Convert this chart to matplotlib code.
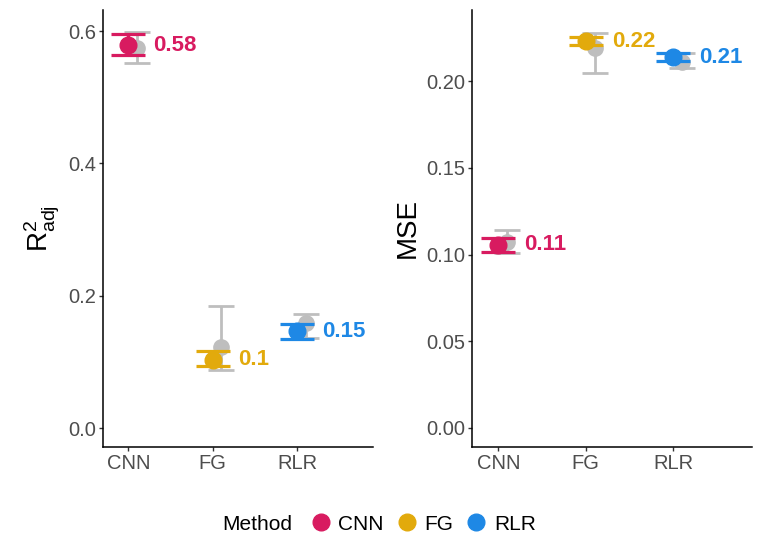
import matplotlib
matplotlib.use('Agg')
import matplotlib.pyplot as plt
from matplotlib.lines import Line2D

plt.rcParams['font.family'] = ['Liberation Sans', 'DejaVu Sans']
plt.rcParams['mathtext.fontset'] = 'custom'
plt.rcParams['mathtext.rm'] = 'Liberation Sans'
plt.rcParams['mathtext.it'] = 'Liberation Sans:italic'

methods = ['CNN', 'FG', 'RLR']
colors = ['#D81B60', '#E2AA0C', '#1E88E5']
grey = '#BEBEBE'

# adjusted R^2: coloured estimate and grey comparison
r2_mean = [0.579, 0.103, 0.146]
r2_low = [0.564, 0.094, 0.134]
r2_high = [0.595, 0.116, 0.157]
r2_grey_mean = [0.574, 0.122, 0.159]
r2_grey_low = [0.552, 0.088, 0.136]
r2_grey_high = [0.598, 0.184, 0.172]

# MSE
mse_mean = [0.1055, 0.223, 0.2138]
mse_low = [0.1014, 0.2207, 0.2115]
mse_high = [0.1095, 0.2254, 0.216]
mse_grey_mean = [0.107, 0.219, 0.211]
mse_grey_low = [0.101, 0.2046, 0.2075]
mse_grey_high = [0.114, 0.228, 0.216]

r2_ticks = [0.0, 0.2, 0.4, 0.6]
mse_ticks = [0.00, 0.05, 0.10, 0.15, 0.20]

fig = plt.figure(figsize=(7.65, 5.47), dpi=100)
ax1 = fig.add_axes([103 / 765, 1 - 447 / 547, 270 / 765, 437 / 547])
ax2 = fig.add_axes([472 / 765, 1 - 447 / 547, 280 / 765, 437 / 547])


def panel(ax, mean, low, high, gmean, glow, ghigh, ticks, fmt, ylim):
    for i, m in enumerate(methods):
        x = i + 1
        ax.errorbar(x + 0.1, gmean[i], yerr=[[gmean[i] - glow[i]], [ghigh[i] - gmean[i]]],
                    fmt='o', color=grey, ms=11, elinewidth=2, capsize=9.5, capthick=2,
                    zorder=2)
        ax.errorbar(x, mean[i], yerr=[[mean[i] - low[i]], [high[i] - mean[i]]],
                    fmt='o', color=colors[i], ms=12, elinewidth=2.3, capsize=12,
                    capthick=2.3, zorder=3)
        ax.text(x + 0.3, mean[i], f'{round(mean[i], 2):g}', color=colors[i],
                fontsize=16, fontweight='bold', ha='left', va='center', zorder=4)
    ax.set_xlim(0.7, 3.9)
    ax.set_ylim(*ylim)
    ax.set_xticks([1, 2, 3])
    ax.set_xticklabels(methods)
    ax.set_yticks(ticks)
    ax.set_yticklabels([fmt.format(t) for t in ticks])
    for s in ['top', 'right']:
        ax.spines[s].set_visible(False)
    for s in ['left', 'bottom']:
        ax.spines[s].set_linewidth(1.1)
    ax.tick_params(length=3, width=1, color='#333333', labelsize=14.5,
                   labelcolor='#4D4D4D', pad=2)


panel(ax1, r2_mean, r2_low, r2_high, r2_grey_mean, r2_grey_low, r2_grey_high,
      r2_ticks, '{:.1f}', (-0.0287, 0.632))
panel(ax2, mse_mean, mse_low, mse_high, mse_grey_mean, mse_grey_low, mse_grey_high,
      mse_ticks, '{:.2f}', (-0.011, 0.241))

ax1.set_ylabel(r'$\mathrm{R}^{2}_{\mathrm{adj}}$', fontsize=20, labelpad=4)
ax2.set_ylabel('MSE', fontsize=20, labelpad=4)

fig.text(222 / 765, 1 - 524 / 547, 'Method', fontsize=15, ha='left', va='center')
handles = [Line2D([], [], marker='o', ls='', color=c, ms=12) for c in colors]
fig.legend(handles, methods, loc='center', bbox_to_anchor=(423 / 765, 1 - 524 / 547),
           ncol=3, frameon=False, fontsize=15, handlelength=1.0,
           handletextpad=0.35, columnspacing=0.6, borderpad=0)

fig.savefig('out.png', dpi=100)
